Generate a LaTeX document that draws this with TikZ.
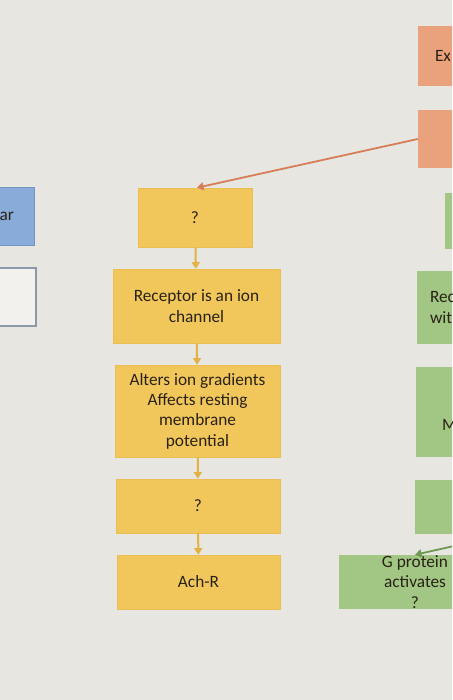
\documentclass[tikz,border=0pt]{standalone}
\usepackage{fontspec}
\setmainfont{Carlito}
\usetikzlibrary{arrows.meta}
\definecolor{paper}{HTML}{E8E6E1}
\definecolor{ink}{HTML}{2A2216}
\definecolor{yfill}{HTML}{F1C75C}
\definecolor{yline}{HTML}{EBBE55}
\definecolor{yarr}{HTML}{E3B244}
\definecolor{ofill}{HTML}{E9A27C}
\definecolor{oarr}{HTML}{D67E57}
\definecolor{gfill}{HTML}{A2C784}
\definecolor{garr}{HTML}{6E9852}
\definecolor{bfill}{HTML}{89ABDA}
\definecolor{bline}{HTML}{7594C2}
\definecolor{wline}{HTML}{8C97A8}

\begin{document}
\begin{tikzpicture}[x=1pt, y=-1pt,
  box/.style={rectangle, inner sep=0pt, text=ink, align=center,
    font=\fontsize{17.3}{20.4}\selectfont},
  ybox/.style={box, fill=yfill, draw=yline, line width=0.6pt},
  obox/.style={box, fill=ofill},
  gbox/.style={box, fill=gfill},
  yarrow/.style={yarr, line width=2pt, -{Triangle[width=8pt,length=6.5pt]}},
  oarrow/.style={oarr, line width=1.8pt, -{Triangle[width=8pt,length=6.5pt]}},
  garrow/.style={garr, line width=1.8pt, -{Triangle[width=8pt,length=6.5pt]}}]
  % Page
  \useasboundingbox (0,0) rectangle (452,700);
  \clip (0,0) rectangle (452,700);
  \fill[paper] (0,0) rectangle (452,700);

  % Left column (cut off)
  \node[box, fill=bfill, draw=bline, line width=0.8pt, minimum width=100pt, minimum height=58pt,
    text width=60pt, inner xsep=20pt, align=right] (lar) at (-16,216) {ar};
  \node[box, fill=white!45!paper, draw=wline, line width=1.4pt, minimum width=100pt,
    minimum height=58pt] (lwhite) at (-14,297) {};

  % Yellow chain
  \node[ybox, minimum width=114pt, minimum height=59pt] (q1) at (195,217.5) {?};
  \node[ybox, minimum width=167pt, minimum height=74pt] (ionch) at (196.5,306)
    {Receptor is an ion\\channel};
  \node[ybox, minimum width=165pt, minimum height=92pt] (alters) at (197.5,411)
    {Alters ion gradients\\Affects resting\\membrane\\potential};
  \node[ybox, minimum width=164pt, minimum height=54pt] (q2) at (198,506) {?};
  \node[ybox, minimum width=163pt, minimum height=54pt] (achr) at (198.5,582) {Ach-R};

  % Right column (cut off)
  \node[obox, minimum width=110pt, minimum height=60pt, text width=76pt, inner xsep=17pt,
    align=left] (ex1) at (473,56) {Ex};
  \node[obox, minimum width=110pt, minimum height=58pt] (ex2) at (473,139) {};
  \node[gbox, minimum width=110pt, minimum height=56pt] (g1) at (500,221) {};
  \node[gbox, minimum width=110pt, minimum height=73pt, text width=84pt, inner xsep=13pt,
    align=left] (g2) at (472,307.5) {Rec\\wit};
  \node[gbox, minimum width=110pt, minimum height=90pt] (g3) at (471,412) {};
  \node[box, anchor=west] (mtext) at (442,425) {M};
  \node[gbox, minimum width=182pt, minimum height=54pt] (g4) at (506,507) {};
  \node[gbox, minimum width=152pt, minimum height=54pt] (gprot) at (415,582)
    {G protein\\activates\\?};

  % Connectors
  \foreach \a/\b in {q1/ionch, ionch/alters, alters/q2, q2/achr}
    \draw[yarrow] (\a) -- (\b);
  \draw[oarrow] (ex2.west) -- ([xshift=2pt]q1.north);
  \draw[garrow] (g4.south) -- (gprot.north);
\end{tikzpicture}
\end{document}
